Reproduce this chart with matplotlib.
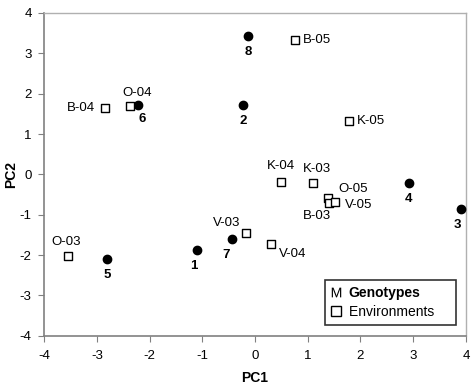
import matplotlib.pyplot as plt
from matplotlib.lines import Line2D

plt.rcParams['font.family'] = ['Liberation Sans', 'DejaVu Sans']
plt.rcParams['axes.unicode_minus'] = False

# genotypes (filled circles)
geno_names = ['1', '2', '3', '4', '5', '6', '7', '8']
geno_pc1 = [-1.10, -0.23, 3.90, 2.92, -2.80, -2.21, -0.43, -0.13]
geno_pc2 = [-1.87, 1.73, -0.86, -0.21, -2.09, 1.72, -1.60, 3.43]

# environments (open squares)
env_names = ['B-05', 'K-05', 'K-04', 'K-03', 'O-05', 'B-03', 'V-05',
             'V-03', 'V-04', 'O-03', 'B-04', 'O-04']
env_pc1 = [0.76, 1.78, 0.49, 1.10, 1.38, 1.41, 1.52, -0.18, 0.30, -3.55, -2.84, -2.38]
env_pc2 = [3.34, 1.32, -0.18, -0.22, -0.58, -0.71, -0.69, -1.44, -1.73, -2.03, 1.64, 1.69]

# label offsets in pixels
geno_off = {'1': (-3, -16), '2': (0, -16), '3': (-3, -16), '4': (0, -16),
            '5': (0, -16), '6': (4, -14), '7': (-6, -16), '8': (0, -16)}
env_off = {'B-05': (8, 0), 'K-05': (8, 0), 'K-04': (0, 16), 'K-03': (4, 14),
           'O-05': (25, 9), 'B-03': (-12, -13), 'V-05': (23, -3),
           'V-03': (-19, 10), 'V-04': (22, -10), 'O-03': (-2, 14),
           'B-04': (-24, 0), 'O-04': (8, 13)}
env_ha = {'B-05': 'left', 'K-05': 'left', 'B-04': 'center'}

fig = plt.figure(figsize=(4.74, 3.91), dpi=100)
ax = fig.add_axes([0.093, 0.141, 0.890, 0.826])

ax.scatter(geno_pc1, geno_pc2, s=36, c='black', marker='o', zorder=3)
ax.scatter(env_pc1, env_pc2, s=38, facecolors='white', edgecolors='black',
           marker='s', linewidths=1.0, zorder=3)

for n, x, y in zip(geno_names, geno_pc1, geno_pc2):
    dx, dy = geno_off[n]
    ax.annotate(n, (x, y), xytext=(dx, dy), textcoords='offset pixels',
                ha='center', va='center', fontsize=9.5, fontweight='bold')

for n, x, y in zip(env_names, env_pc1, env_pc2):
    dx, dy = env_off[n]
    ax.annotate(n, (x, y), xytext=(dx, dy), textcoords='offset pixels',
                ha=env_ha.get(n, 'center'), va='center', fontsize=9.5)

ax.set_xlim(-4, 4)
ax.set_ylim(-4, 4)
ax.set_xticks(range(-4, 5))
ax.set_yticks(range(-4, 5))
ax.tick_params(direction='out', length=4, color='#808080', labelsize=9.5)
ax.tick_params(axis='x', pad=6)
ax.tick_params(axis='y', pad=5)

for s in ['left', 'bottom']:
    ax.spines[s].set_color('#808080')
    ax.spines[s].set_linewidth(1.2)
for s in ['top', 'right']:
    ax.spines[s].set_color('#b0b0b0')
    ax.spines[s].set_linewidth(1.0)

ax.set_xlabel('PC1', fontweight='bold', fontsize=10)
ax.set_ylabel('PC2', fontweight='bold', fontsize=10)
ax.xaxis.set_label_coords(0.5, -0.108)
ax.yaxis.set_label_coords(-0.062, 0.5)

handles = [Line2D([0], [0], marker='$\\mathregular{M}$', color='w', markerfacecolor='black',
                  markeredgecolor='black', markeredgewidth=0, markersize=7),
           Line2D([0], [0], marker='s', color='w', markerfacecolor='white',
                  markeredgecolor='black', markersize=6.5)]
leg = ax.legend(handles, ['Genotypes', 'Environments    '], loc='lower right',
                bbox_to_anchor=(0.976, 0.034), fontsize=10, frameon=True,
                fancybox=False, handlelength=0.8, handletextpad=0.5,
                borderpad=0.45, labelspacing=0.35, borderaxespad=0)
leg.get_frame().set_edgecolor('black')
leg.get_frame().set_linewidth(1.2)
leg.get_texts()[0].set_fontweight('bold')

fig.savefig('out.png', dpi=100)
